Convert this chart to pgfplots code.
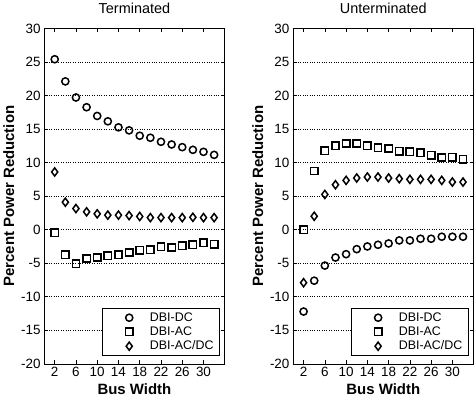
\documentclass[border=0pt]{standalone}
\usepackage{fontspec}
\setmainfont{Liberation Sans}
\usepackage{pgfplots}
\pgfplotsset{compat=1.18}

\pgfplotsset{
 myax/.style={
  scale only axis, width=181.5pt, height=337pt,
  xmin=0, xmax=34, ymin=-20, ymax=30,
  xtick={2,6,...,30}, ytick={-20,-15,...,30},
  ymajorgrids, grid style={black, dotted, line width=0.7pt},
  tick align=inside, major tick length=4pt,
  xtick pos=both, ytick pos=both,
  tick style={black, line width=0.6pt},
  axis line style={line width=0.7pt},
  /pgf/number format/assume math mode=true,
  tick label style={font=\fontsize{13.5}{15}\selectfont},
  label style={font=\bfseries\fontsize{15}{17}\selectfont},
  title style={font=\fontsize{14.5}{16}\selectfont, yshift=5pt},
  xlabel={Bus Width}, ylabel={Percent Power Reduction},
  legend style={at={(0.973,0.024)}, anchor=south east, draw=black, line width=0.8pt,
    font=\fontsize{12.5}{15}\selectfont, inner xsep=4pt, inner ysep=2pt,
    /tikz/every even column/.append style={column sep=4pt}},
  legend cell align=left,
 },
 pts/.style={only marks, black, line width=1.5pt,
   legend image code/.code={\path (0pt,0pt) (40pt,0pt); \draw[##1] plot coordinates {(22pt,0pt)};}},
}

\begin{document}
\begin{tikzpicture}
\begin{axis}[myax, title={Terminated}]
\addplot[only marks, mark=o, mark size=3.6pt, pts] coordinates {(2,25.4)(4,22.1)(6,19.7)(8,18.25)(10,16.95)(12,16.15)(14,15.25)(16,14.8)(18,14.0)(20,13.7)(22,13.1)(24,12.7)(26,12.3)(28,11.9)(30,11.6)(32,11.15)};
\addlegendentry{DBI-DC}
\addplot[only marks, mark=square, mark size=3.7pt, pts] coordinates {(2,-0.45)(4,-3.75)(6,-5.1)(8,-4.3)(10,-4.15)(12,-3.9)(14,-3.75)(16,-3.4)(18,-3.05)(20,-3.0)(22,-2.55)(24,-2.65)(26,-2.4)(28,-2.25)(30,-1.95)(32,-2.15)};
\addlegendentry{DBI-AC}
\addplot[only marks, mark=diamond, mark size=4.1pt, pts] coordinates {(2,8.6)(4,4.1)(6,3.15)(8,2.66)(10,2.36)(12,2.17)(14,2.17)(16,2.1)(18,1.97)(20,1.8)(22,1.8)(24,1.8)(26,1.8)(28,1.85)(30,1.8)(32,1.8)};
\addlegendentry{DBI-AC/DC}
\end{axis}
\begin{axis}[myax, xshift=250pt, title={Unterminated}]
\addplot[only marks, mark=o, mark size=3.6pt, pts] coordinates {(2,-12.2)(4,-7.6)(6,-5.35)(8,-4.15)(10,-3.65)(12,-2.9)(14,-2.5)(16,-2.25)(18,-2.05)(20,-1.6)(22,-1.6)(24,-1.35)(26,-1.35)(28,-1.05)(30,-1.05)(32,-1.05)};
\addlegendentry{DBI-DC}
\addplot[only marks, mark=square, mark size=3.7pt, pts] coordinates {(2,0)(4,8.75)(6,11.75)(8,12.5)(10,12.85)(12,12.85)(14,12.5)(16,12.2)(18,12.1)(20,11.7)(22,11.6)(24,11.45)(26,11.1)(28,10.75)(30,10.8)(32,10.5)};
\addlegendentry{DBI-AC}
\addplot[only marks, mark=diamond, mark size=4.1pt, pts] coordinates {(2,-7.9)(4,2.0)(6,5.25)(8,6.7)(10,7.35)(12,7.7)(14,7.85)(16,7.85)(18,7.7)(20,7.6)(22,7.5)(24,7.5)(26,7.5)(28,7.35)(30,7.1)(32,7.1)};
\addlegendentry{DBI-AC/DC}
\end{axis}
\end{tikzpicture}
\end{document}
